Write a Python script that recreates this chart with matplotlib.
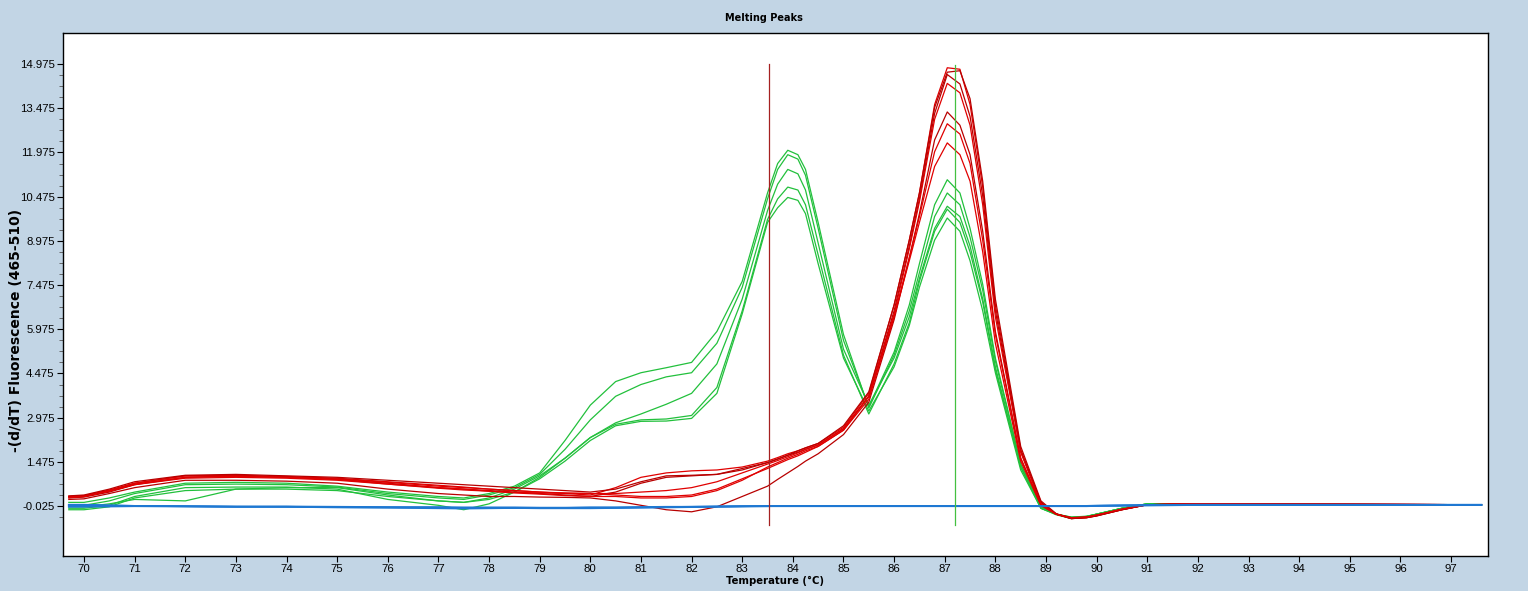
import numpy as np
from matplotlib import pyplot as plt
from matplotlib.ticker import FixedLocator

temps = [69.7, 70, 70.5, 71, 72, 73, 74, 75, 76, 77, 77.5, 78, 78.5, 79, 79.5, 80,
         80.5, 81, 81.5, 82, 82.5, 83, 83.5, 83.7, 83.9, 84.1, 84.25, 84.5, 85, 85.5, 86, 86.3,
         86.5, 86.8, 87.05, 87.3, 87.5, 87.75, 88, 88.5, 88.9, 89.2, 89.5, 89.8, 90, 90.5, 91, 92, 97.6]

# red samples
red_1 = [0.30, 0.32, 0.50, 0.75, 1.00, 1.02, 0.98, 0.92, 0.80, 0.68, 0.62, 0.55, 0.50, 0.45, 0.40, 0.35,
         0.60, 0.95, 1.10, 1.17, 1.20, 1.30, 1.50, 1.62, 1.75, 1.85, 1.95, 2.10, 2.65, 3.80, 6.80, 9.00,
         10.60, 13.60, 14.85, 14.80, 13.60, 10.80, 6.80, 1.90, 0.10, -0.30, -0.45, -0.42, -0.35, -0.15, 0.02, 0.05, 0.02]
red_2 = [0.25, 0.28, 0.45, 0.70, 0.95, 1.00, 0.95, 0.88, 0.75, 0.60, 0.55, 0.50, 0.45, 0.40, 0.35, 0.30,
         0.45, 0.75, 0.95, 1.00, 1.05, 1.20, 1.45, 1.57, 1.70, 1.80, 1.90, 2.05, 2.60, 3.70, 6.60, 8.80,
         10.40, 13.30, 14.62, 14.30, 13.20, 10.50, 6.60, 1.85, 0.10, -0.30, -0.45, -0.42, -0.36, -0.15, 0.02, 0.05, 0.02]
red_3 = [0.28, 0.30, 0.48, 0.72, 0.95, 0.98, 0.95, 0.90, 0.78, 0.65, 0.60, 0.55, 0.50, 0.45, 0.42, 0.40,
         0.35, 0.30, 0.30, 0.35, 0.55, 0.90, 1.25, 1.40, 1.55, 1.68, 1.80, 2.00, 2.55, 3.70, 6.50, 8.70,
         10.30, 13.10, 14.32, 14.00, 12.90, 10.20, 6.40, 1.80, 0.05, -0.30, -0.44, -0.41, -0.34, -0.14, 0.02, 0.05, 0.02]
red_4 = [0.20, 0.22, 0.40, 0.60, 0.85, 0.85, 0.82, 0.75, 0.55, 0.40, 0.35, 0.30, 0.30, 0.28, 0.27, 0.25,
         0.15, 0.00, -0.15, -0.22, -0.05, 0.30, 0.65, 0.88, 1.10, 1.32, 1.50, 1.75, 2.40, 3.50, 6.30, 8.40,
         9.90, 12.40, 13.35, 12.90, 11.90, 9.30, 5.90, 1.60, 0.00, -0.30, -0.42, -0.40, -0.33, -0.13, 0.02, 0.05, 0.02]
red_5 = [0.30, 0.33, 0.52, 0.75, 1.00, 1.00, 0.95, 0.88, 0.72, 0.60, 0.55, 0.48, 0.42, 0.38, 0.33, 0.30,
         0.30, 0.25, 0.25, 0.30, 0.50, 0.85, 1.30, 1.45, 1.60, 1.73, 1.85, 2.00, 2.55, 3.60, 6.40, 8.40,
         9.80, 12.00, 12.95, 12.60, 11.60, 9.00, 5.80, 1.60, 0.05, -0.30, -0.43, -0.40, -0.34, -0.14, 0.02, 0.05, 0.02]
red_6 = [0.32, 0.35, 0.55, 0.80, 1.02, 1.05, 1.00, 0.95, 0.85, 0.75, 0.70, 0.65, 0.60, 0.55, 0.50, 0.45,
         0.55, 0.80, 1.00, 1.02, 1.05, 1.25, 1.45, 1.57, 1.70, 1.85, 1.95, 2.10, 2.70, 3.85, 6.80, 9.00,
         10.60, 13.50, 14.70, 14.75, 13.80, 11.00, 7.00, 2.00, 0.15, -0.28, -0.45, -0.42, -0.36, -0.15, 0.02, 0.05, 0.02]
red_7 = [0.26, 0.30, 0.48, 0.70, 0.92, 0.95, 0.92, 0.85, 0.72, 0.58, 0.52, 0.48, 0.44, 0.42, 0.41, 0.40,
         0.40, 0.45, 0.50, 0.60, 0.80, 1.10, 1.40, 1.52, 1.65, 1.78, 1.90, 2.05, 2.60, 3.70, 6.40, 8.30,
         9.60, 11.50, 12.30, 11.90, 11.00, 8.60, 5.50, 1.50, 0.00, -0.30, -0.42, -0.40, -0.33, -0.13, 0.02, 0.05, 0.02]

# green samples
green_1 = [0.10, 0.10, 0.25, 0.45, 0.75, 0.78, 0.75, 0.65, 0.45, 0.30, 0.25, 0.40, 0.65, 1.10, 2.20, 3.40,
           4.20, 4.50, 4.67, 4.85, 5.90, 7.60, 10.60, 11.60, 12.05, 11.90, 11.40, 9.60, 5.80, 3.30, 5.10, 6.60,
           7.90, 9.80, 10.60, 10.20, 9.10, 7.30, 4.90, 1.40, -0.05, -0.30, -0.40, -0.38, -0.30, -0.10, 0.05, 0.03, 0.02]
green_2 = [0.00, 0.00, 0.15, 0.40, 0.70, 0.72, 0.70, 0.62, 0.40, 0.25, 0.20, 0.35, 0.60, 1.05, 1.90, 2.90,
           3.70, 4.10, 4.36, 4.50, 5.50, 7.40, 10.40, 11.40, 11.90, 11.75, 11.20, 9.40, 5.60, 3.35, 5.20, 6.80,
           8.20, 10.20, 11.05, 10.60, 9.40, 7.50, 5.00, 1.40, -0.05, -0.30, -0.42, -0.38, -0.30, -0.10, 0.05, 0.03, 0.02]
green_3 = [-0.05, -0.05, 0.05, 0.20, 0.15, 0.55, 0.60, 0.60, 0.35, 0.15, 0.10, 0.25, 0.55, 1.00, 1.60, 2.30,
           2.80, 3.10, 3.43, 3.80, 4.80, 7.00, 10.00, 10.90, 11.40, 11.25, 10.70, 8.90, 5.30, 3.40, 5.00, 6.40,
           7.70, 9.40, 10.15, 9.80, 8.80, 7.00, 4.70, 1.30, -0.10, -0.30, -0.40, -0.37, -0.30, -0.10, 0.05, 0.03, 0.02]
green_4 = [-0.10, -0.10, 0.00, 0.30, 0.60, 0.62, 0.62, 0.55, 0.20, 0.00, -0.15, 0.05, 0.45, 0.95, 1.60, 2.30,
           2.75, 2.90, 2.93, 3.05, 4.00, 6.60, 9.70, 10.40, 10.80, 10.70, 10.20, 8.50, 5.10, 3.10, 4.80, 6.20,
           7.60, 9.30, 10.05, 9.60, 8.60, 6.90, 4.60, 1.30, -0.10, -0.32, -0.45, -0.40, -0.32, -0.12, 0.04, 0.03, 0.02]
green_5 = [-0.15, -0.15, -0.05, 0.25, 0.50, 0.55, 0.55, 0.50, 0.30, 0.15, 0.10, 0.20, 0.45, 0.90, 1.50, 2.20,
           2.70, 2.85, 2.86, 2.95, 3.80, 6.50, 9.60, 10.10, 10.45, 10.35, 9.90, 8.20, 5.00, 3.20, 4.70, 6.10,
           7.40, 9.00, 9.75, 9.30, 8.30, 6.60, 4.50, 1.20, -0.10, -0.30, -0.42, -0.38, -0.30, -0.10, 0.05, 0.03, 0.02]

# blank wells
blue_1 = [0.02, 0.02, 0.00, -0.02, -0.03, -0.04, -0.05, -0.06, -0.07, -0.08, -0.09, -0.09, -0.09, -0.09, -0.09, -0.08,
          -0.08, -0.07, -0.06, -0.05, -0.04, -0.03, -0.02, -0.02, -0.02, -0.02, -0.02, -0.02, -0.02, -0.02, -0.02, -0.02,
          -0.02, -0.02, -0.02, -0.02, -0.02, -0.02, -0.02, -0.02, -0.02, -0.02, -0.02, -0.02, -0.01, 0.00, 0.01, 0.02, 0.02]
blue_2 = [-0.05, -0.05, -0.04, -0.03, -0.04, -0.05, -0.05, -0.07, -0.08, -0.10, -0.11, -0.10, -0.09, -0.10, -0.10, -0.10,
          -0.09, -0.08, -0.07, -0.06, -0.05, -0.04, -0.03, -0.03, -0.03, -0.03, -0.03, -0.03, -0.03, -0.03, -0.03, -0.03,
          -0.03, -0.03, -0.03, -0.03, -0.03, -0.03, -0.03, -0.03, -0.03, -0.03, -0.03, -0.03, -0.02, -0.01, 0.00, 0.01, 0.01]
blue_3 = [0.00, 0.00, -0.01, -0.02, -0.03, -0.05, -0.04, -0.05, -0.06, -0.06, -0.07, -0.07, -0.07, -0.08, -0.08, -0.07,
          -0.07, -0.06, -0.05, -0.05, -0.04, -0.03, -0.03, -0.02, -0.02, -0.02, -0.02, -0.02, -0.02, -0.02, -0.02, -0.02,
          -0.02, -0.02, -0.02, -0.02, -0.02, -0.02, -0.02, -0.02, -0.02, -0.02, -0.02, -0.02, -0.02, -0.01, 0.00, 0.01, 0.01]

red_curves = [red_1, red_2, red_3, red_4, red_5, red_6, red_7]
green_curves = [green_1, green_2, green_3, green_4, green_5]
blue_curves = [blue_1, blue_2, blue_3]

cursor_red = 83.52
cursor_green = 87.2

yticks = [-0.025 + 1.5 * k for k in range(11)]
xticks = list(range(70, 98))

bg = '#c2d5e5'
fig = plt.figure(figsize=(15.28, 5.91), dpi=100, facecolor=bg)
ax = fig.add_axes([63 / 1528, 35 / 591, 1425 / 1528, 523 / 591])
ax.set_facecolor('white')

for c in green_curves:
    ax.plot(temps, c, color='#22c03c', lw=0.9)
for i, c in enumerate(red_curves):
    ax.plot(temps, c, color='#e00000' if i % 2 == 0 else '#b80000', lw=0.9)
for c in blue_curves:
    ax.plot(temps, c, color='#1e78d2', lw=1.3)

ax.plot([cursor_red, cursor_red], [-0.67, 14.975], color='#a52020', lw=0.9)
ax.plot([cursor_green, cursor_green], [-0.67, 14.95], color='#44c040', lw=0.9)

ax.set_xlim(69.585, 97.73)
ax.set_ylim(-1.72, 16.03)
ax.set_xticks(xticks)
ax.set_yticks(yticks)
ax.set_yticklabels(['%.3f' % v for v in yticks])
ax.yaxis.set_minor_locator(FixedLocator(list(np.arange(-0.4, 15.0, 0.375))))
ax.tick_params(axis='both', which='major', direction='out', length=4, width=0.8,
               labelsize=8.2, colors='black', pad=2)
ax.tick_params(axis='y', which='minor', direction='out', length=3, width=0.6, color='#555555')
for lbl in ax.get_xticklabels() + ax.get_yticklabels():
    lbl.set_family('Liberation Sans')
for s in ax.spines.values():
    s.set_linewidth(1.0)
    s.set_color('black')

fig.text(0.5, 1 - 18 / 591, 'Melting Peaks', ha='center', va='center',
         fontsize=7, fontweight='bold')
ax.set_xlabel('Temperature (°C)', fontsize=7.3, fontweight='bold', labelpad=1)
ax.set_ylabel('-(d/dT) Fluorescence (465-510)', fontsize=10, fontweight='bold')
ax.yaxis.set_label_coords(-0.028, 0.432)

fig.savefig('out.png', dpi=100, facecolor=bg)
